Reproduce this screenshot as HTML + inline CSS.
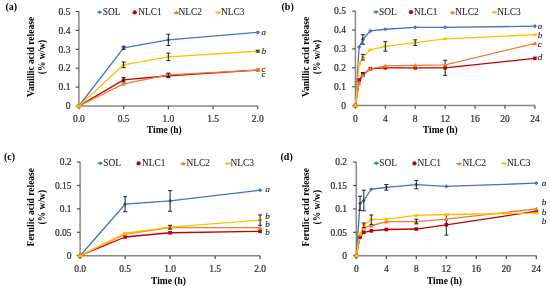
<!DOCTYPE html>
<html><head><meta charset="utf-8"><style>
html,body{margin:0;padding:0;background:#fff;width:550px;height:288px;overflow:hidden}
svg{display:block;filter:blur(0.3px)}
</style></head><body>
<svg width="550" height="288" viewBox="0 0 550 288">
<rect width="550" height="288" fill="#fff"/>
<text x="5.5" y="9.8" font-family="Liberation Serif" font-size="10" font-weight="bold" fill="#000">(a)</text>
<text transform="translate(33.9,57.0) rotate(-90)" text-anchor="middle" font-family="Liberation Serif" font-size="9.5" font-weight="bold" fill="#000"><tspan x="0" y="0">Vanillic acid release</tspan><tspan x="0" y="10.7">(% w/w)</tspan></text>
<text x="164.3" y="133.3" text-anchor="middle" font-family="Liberation Serif" font-size="9.5" font-weight="bold" fill="#000">Time (h)</text>
<path d="M78.90 11.50V106.00H257.80" fill="none" stroke="#888888" stroke-width="1.5"/>
<path d="M75.70 106.00H78.90" stroke="#4a4a4a" stroke-width="1.2"/>
<text x="70.40" y="109.20" text-anchor="end" font-family="Liberation Serif" font-size="9.5" fill="#2e2e2e" stroke="#2e2e2e" stroke-width="0.22">0</text>
<path d="M75.70 87.10H78.90" stroke="#4a4a4a" stroke-width="1.2"/>
<text x="70.40" y="90.30" text-anchor="end" font-family="Liberation Serif" font-size="9.5" fill="#2e2e2e" stroke="#2e2e2e" stroke-width="0.22">0.1</text>
<path d="M75.70 68.20H78.90" stroke="#4a4a4a" stroke-width="1.2"/>
<text x="70.40" y="71.40" text-anchor="end" font-family="Liberation Serif" font-size="9.5" fill="#2e2e2e" stroke="#2e2e2e" stroke-width="0.22">0.2</text>
<path d="M75.70 49.30H78.90" stroke="#4a4a4a" stroke-width="1.2"/>
<text x="70.40" y="52.50" text-anchor="end" font-family="Liberation Serif" font-size="9.5" fill="#2e2e2e" stroke="#2e2e2e" stroke-width="0.22">0.3</text>
<path d="M75.70 30.40H78.90" stroke="#4a4a4a" stroke-width="1.2"/>
<text x="70.40" y="33.60" text-anchor="end" font-family="Liberation Serif" font-size="9.5" fill="#2e2e2e" stroke="#2e2e2e" stroke-width="0.22">0.4</text>
<path d="M75.70 11.50H78.90" stroke="#4a4a4a" stroke-width="1.2"/>
<text x="70.40" y="14.70" text-anchor="end" font-family="Liberation Serif" font-size="9.5" fill="#2e2e2e" stroke="#2e2e2e" stroke-width="0.22">0.5</text>
<path d="M78.90 106.00V109.20" stroke="#4a4a4a" stroke-width="1.2"/>
<text x="78.90" y="122.00" text-anchor="middle" font-family="Liberation Serif" font-size="9.5" fill="#2e2e2e" stroke="#2e2e2e" stroke-width="0.22">0.0</text>
<path d="M123.62 106.00V109.20" stroke="#4a4a4a" stroke-width="1.2"/>
<text x="123.62" y="122.00" text-anchor="middle" font-family="Liberation Serif" font-size="9.5" fill="#2e2e2e" stroke="#2e2e2e" stroke-width="0.22">0.5</text>
<path d="M168.35 106.00V109.20" stroke="#4a4a4a" stroke-width="1.2"/>
<text x="168.35" y="122.00" text-anchor="middle" font-family="Liberation Serif" font-size="9.5" fill="#2e2e2e" stroke="#2e2e2e" stroke-width="0.22">1.0</text>
<path d="M213.08 106.00V109.20" stroke="#4a4a4a" stroke-width="1.2"/>
<text x="213.08" y="122.00" text-anchor="middle" font-family="Liberation Serif" font-size="9.5" fill="#2e2e2e" stroke="#2e2e2e" stroke-width="0.22">1.5</text>
<path d="M257.80 106.00V109.20" stroke="#4a4a4a" stroke-width="1.2"/>
<text x="257.80" y="122.00" text-anchor="middle" font-family="Liberation Serif" font-size="9.5" fill="#2e2e2e" stroke="#2e2e2e" stroke-width="0.22">2.0</text>
<path d="M78.90 106.00 L123.62 47.79 L168.35 39.85 L257.80 32.29" fill="none" stroke="#4472C4" stroke-width="1.3" stroke-linejoin="round"/>
<path d="M78.90 106.00 L123.62 79.92 L168.35 75.76 L257.80 70.09" fill="none" stroke="#C00000" stroke-width="1.3" stroke-linejoin="round"/>
<path d="M78.90 106.00 L123.62 83.89 L168.35 74.81 L257.80 70.09" fill="none" stroke="#ED7D31" stroke-width="1.3" stroke-linejoin="round"/>
<path d="M78.90 106.00 L123.62 64.80 L168.35 56.86 L257.80 51.19" fill="none" stroke="#FFC000" stroke-width="1.3" stroke-linejoin="round"/>
<path d="M76.80 106.00L78.90 103.90L81.00 106.00L78.90 108.10Z" fill="#4472C4"/>
<path d="M121.53 47.79L123.62 45.69L125.72 47.79L123.62 49.89Z" fill="#4472C4"/>
<path d="M166.25 39.85L168.35 37.75L170.45 39.85L168.35 41.95Z" fill="#4472C4"/>
<path d="M255.70 32.29L257.80 30.19L259.90 32.29L257.80 34.39Z" fill="#4472C4"/>
<path d="M123.62 46.28V49.30M121.62 46.28H125.62M121.62 49.30H125.62" stroke="#1e1e1e" stroke-width="1.0" fill="none"/>
<path d="M168.35 34.18V45.52M166.35 34.18H170.35M166.35 45.52H170.35" stroke="#1e1e1e" stroke-width="1.0" fill="none"/>
<circle cx="78.90" cy="106.00" r="1.85" fill="#C00000"/>
<circle cx="123.62" cy="79.92" r="1.85" fill="#C00000"/>
<circle cx="168.35" cy="75.76" r="1.85" fill="#C00000"/>
<circle cx="257.80" cy="70.09" r="1.85" fill="#C00000"/>
<path d="M123.62 77.65V82.19M121.62 77.65H125.62M121.62 82.19H125.62" stroke="#1e1e1e" stroke-width="1.0" fill="none"/>
<path d="M168.35 73.87V77.65M166.35 73.87H170.35M166.35 77.65H170.35" stroke="#1e1e1e" stroke-width="1.0" fill="none"/>
<rect x="77.10" y="104.20" width="3.60" height="3.60" fill="#ED7D31"/>
<rect x="121.83" y="82.09" width="3.60" height="3.60" fill="#ED7D31"/>
<rect x="166.55" y="73.02" width="3.60" height="3.60" fill="#ED7D31"/>
<rect x="256.00" y="68.29" width="3.60" height="3.60" fill="#ED7D31"/>
<path d="M168.35 73.11V76.52M166.35 73.11H170.35M166.35 76.52H170.35" stroke="#1e1e1e" stroke-width="1.0" fill="none"/>
<rect x="76.90" y="104.80" width="4.00" height="2.4" fill="#FFC000"/>
<rect x="121.62" y="63.60" width="4.00" height="2.4" fill="#FFC000"/>
<rect x="166.35" y="55.66" width="4.00" height="2.4" fill="#FFC000"/>
<rect x="255.80" y="49.99" width="4.00" height="2.4" fill="#FFC000"/>
<path d="M123.62 61.96V67.63M121.62 61.96H125.62M121.62 67.63H125.62" stroke="#1e1e1e" stroke-width="1.0" fill="none"/>
<path d="M168.35 53.08V60.64M166.35 53.08H170.35M166.35 60.64H170.35" stroke="#1e1e1e" stroke-width="1.0" fill="none"/>
<path d="M257.80 50.25V52.14M255.80 50.25H259.80M255.80 52.14H259.80" stroke="#1e1e1e" stroke-width="1.0" fill="none"/>
<text x="261.50" y="35.30" font-family="Liberation Serif" font-size="9.2" font-style="italic" fill="#2a2a2a" stroke="#2a2a2a" stroke-width="0.15">a</text>
<text x="261.50" y="54.30" font-family="Liberation Serif" font-size="9.2" font-style="italic" fill="#2a2a2a" stroke="#2a2a2a" stroke-width="0.15">b</text>
<text x="261.50" y="71.50" font-family="Liberation Serif" font-size="9.2" font-style="italic" fill="#2a2a2a" stroke="#2a2a2a" stroke-width="0.15">c</text>
<text x="261.50" y="76.80" font-family="Liberation Serif" font-size="9.2" font-style="italic" fill="#2a2a2a" stroke="#2a2a2a" stroke-width="0.15">c</text>
<path d="M96.90 12.20H102.50" stroke="#4472C4" stroke-width="1.0"/>
<path d="M97.70 12.20L99.70 10.21L101.70 12.20L99.70 14.19Z" fill="#4472C4"/>
<circle cx="134.70" cy="12.40" r="2.13" fill="#C00000"/>
<path d="M173.70 12.60H179.30" stroke="#ED7D31" stroke-width="1.0"/>
<path d="M174.31 14.35L176.50 10.41L178.69 14.35Z" fill="#ED7D31"/>
<path d="M215.40 12.50H221.00" stroke="#FFC000" stroke-width="1.0"/>
<rect x="216.30" y="11.30" width="3.80" height="2.4" fill="#FFC000"/>
<text x="102.80" y="14.60" font-family="Liberation Serif" font-size="9.4" fill="#262626" stroke="#262626" stroke-width="0.08">SOL</text>
<text x="138.20" y="14.60" font-family="Liberation Serif" font-size="9.4" fill="#262626" stroke="#262626" stroke-width="0.08">NLC1</text>
<text x="178.60" y="14.60" font-family="Liberation Serif" font-size="9.4" fill="#262626" stroke="#262626" stroke-width="0.08">NLC2</text>
<text x="221.10" y="14.60" font-family="Liberation Serif" font-size="9.4" fill="#262626" stroke="#262626" stroke-width="0.08">NLC3</text>
<text x="281.5" y="9.6" font-family="Liberation Serif" font-size="10" font-weight="bold" fill="#000">(b)</text>
<text transform="translate(309.4,57.0) rotate(-90)" text-anchor="middle" font-family="Liberation Serif" font-size="9.5" font-weight="bold" fill="#000"><tspan x="0" y="0">Vanillic acid release</tspan><tspan x="0" y="10.7">(% w/w)</tspan></text>
<text x="440.3" y="133.3" text-anchor="middle" font-family="Liberation Serif" font-size="9.5" font-weight="bold" fill="#000">Time (h)</text>
<path d="M355.40 11.10V105.60H534.92" fill="none" stroke="#888888" stroke-width="1.5"/>
<path d="M352.20 105.60H355.40" stroke="#4a4a4a" stroke-width="1.2"/>
<text x="345.90" y="108.80" text-anchor="end" font-family="Liberation Serif" font-size="9.5" fill="#2e2e2e" stroke="#2e2e2e" stroke-width="0.22">0</text>
<path d="M352.20 86.70H355.40" stroke="#4a4a4a" stroke-width="1.2"/>
<text x="345.90" y="89.90" text-anchor="end" font-family="Liberation Serif" font-size="9.5" fill="#2e2e2e" stroke="#2e2e2e" stroke-width="0.22">0.1</text>
<path d="M352.20 67.80H355.40" stroke="#4a4a4a" stroke-width="1.2"/>
<text x="345.90" y="71.00" text-anchor="end" font-family="Liberation Serif" font-size="9.5" fill="#2e2e2e" stroke="#2e2e2e" stroke-width="0.22">0.2</text>
<path d="M352.20 48.90H355.40" stroke="#4a4a4a" stroke-width="1.2"/>
<text x="345.90" y="52.10" text-anchor="end" font-family="Liberation Serif" font-size="9.5" fill="#2e2e2e" stroke="#2e2e2e" stroke-width="0.22">0.3</text>
<path d="M352.20 30.00H355.40" stroke="#4a4a4a" stroke-width="1.2"/>
<text x="345.90" y="33.20" text-anchor="end" font-family="Liberation Serif" font-size="9.5" fill="#2e2e2e" stroke="#2e2e2e" stroke-width="0.22">0.4</text>
<path d="M352.20 11.10H355.40" stroke="#4a4a4a" stroke-width="1.2"/>
<text x="345.90" y="14.30" text-anchor="end" font-family="Liberation Serif" font-size="9.5" fill="#2e2e2e" stroke="#2e2e2e" stroke-width="0.22">0.5</text>
<path d="M355.40 105.60V108.80" stroke="#4a4a4a" stroke-width="1.2"/>
<text x="355.40" y="121.60" text-anchor="middle" font-family="Liberation Serif" font-size="9.5" fill="#2e2e2e" stroke="#2e2e2e" stroke-width="0.22">0</text>
<path d="M385.32 105.60V108.80" stroke="#4a4a4a" stroke-width="1.2"/>
<text x="385.32" y="121.60" text-anchor="middle" font-family="Liberation Serif" font-size="9.5" fill="#2e2e2e" stroke="#2e2e2e" stroke-width="0.22">4</text>
<path d="M415.24 105.60V108.80" stroke="#4a4a4a" stroke-width="1.2"/>
<text x="415.24" y="121.60" text-anchor="middle" font-family="Liberation Serif" font-size="9.5" fill="#2e2e2e" stroke="#2e2e2e" stroke-width="0.22">8</text>
<path d="M445.16 105.60V108.80" stroke="#4a4a4a" stroke-width="1.2"/>
<text x="445.16" y="121.60" text-anchor="middle" font-family="Liberation Serif" font-size="9.5" fill="#2e2e2e" stroke="#2e2e2e" stroke-width="0.22">12</text>
<path d="M475.08 105.60V108.80" stroke="#4a4a4a" stroke-width="1.2"/>
<text x="475.08" y="121.60" text-anchor="middle" font-family="Liberation Serif" font-size="9.5" fill="#2e2e2e" stroke="#2e2e2e" stroke-width="0.22">16</text>
<path d="M505.00 105.60V108.80" stroke="#4a4a4a" stroke-width="1.2"/>
<text x="505.00" y="121.60" text-anchor="middle" font-family="Liberation Serif" font-size="9.5" fill="#2e2e2e" stroke="#2e2e2e" stroke-width="0.22">20</text>
<path d="M534.92 105.60V108.80" stroke="#4a4a4a" stroke-width="1.2"/>
<text x="534.92" y="121.60" text-anchor="middle" font-family="Liberation Serif" font-size="9.5" fill="#2e2e2e" stroke="#2e2e2e" stroke-width="0.22">24</text>
<path d="M355.40 105.60 L359.14 47.01 L362.88 39.45 L370.36 30.94 L385.32 29.24 L415.24 27.35 L445.16 27.35 L534.92 26.22" fill="none" stroke="#4472C4" stroke-width="1.3" stroke-linejoin="round"/>
<path d="M355.40 105.60 L359.14 80.08 L362.88 74.41 L370.36 68.93 L385.32 67.80 L415.24 67.80 L445.16 67.80 L534.92 58.35" fill="none" stroke="#C00000" stroke-width="1.3" stroke-linejoin="round"/>
<path d="M355.40 105.60 L359.14 82.92 L362.88 75.36 L370.36 68.93 L385.32 65.91 L415.24 65.34 L445.16 64.78 L534.92 43.42" fill="none" stroke="#ED7D31" stroke-width="1.3" stroke-linejoin="round"/>
<path d="M355.40 105.60 L359.14 64.02 L362.88 57.22 L370.36 49.84 L385.32 46.44 L415.24 42.66 L445.16 38.88 L534.92 34.72" fill="none" stroke="#FFC000" stroke-width="1.3" stroke-linejoin="round"/>
<path d="M353.30 105.60L355.40 103.50L357.50 105.60L355.40 107.70Z" fill="#4472C4"/>
<path d="M357.04 47.01L359.14 44.91L361.24 47.01L359.14 49.11Z" fill="#4472C4"/>
<path d="M360.78 39.45L362.88 37.35L364.98 39.45L362.88 41.55Z" fill="#4472C4"/>
<path d="M368.26 30.94L370.36 28.84L372.46 30.94L370.36 33.04Z" fill="#4472C4"/>
<path d="M383.22 29.24L385.32 27.14L387.42 29.24L385.32 31.34Z" fill="#4472C4"/>
<path d="M413.14 27.35L415.24 25.25L417.34 27.35L415.24 29.45Z" fill="#4472C4"/>
<path d="M443.06 27.35L445.16 25.25L447.26 27.35L445.16 29.45Z" fill="#4472C4"/>
<path d="M532.82 26.22L534.92 24.12L537.02 26.22L534.92 28.32Z" fill="#4472C4"/>
<path d="M362.88 34.72V44.18M360.88 34.72H364.88M360.88 44.18H364.88" stroke="#1e1e1e" stroke-width="1.0" fill="none"/>
<rect x="353.60" y="103.80" width="3.60" height="3.60" fill="#C00000"/>
<rect x="357.34" y="78.28" width="3.60" height="3.60" fill="#C00000"/>
<rect x="361.08" y="72.61" width="3.60" height="3.60" fill="#C00000"/>
<rect x="368.56" y="67.13" width="3.60" height="3.60" fill="#C00000"/>
<rect x="383.52" y="66.00" width="3.60" height="3.60" fill="#C00000"/>
<rect x="413.44" y="66.00" width="3.60" height="3.60" fill="#C00000"/>
<rect x="443.36" y="66.00" width="3.60" height="3.60" fill="#C00000"/>
<rect x="533.12" y="56.55" width="3.60" height="3.60" fill="#C00000"/>
<path d="M362.88 72.52V76.30M360.88 72.52H364.88M360.88 76.30H364.88" stroke="#1e1e1e" stroke-width="1.0" fill="none"/>
<path d="M445.16 60.24V75.36M443.16 60.24H447.16M443.16 75.36H447.16" stroke="#1e1e1e" stroke-width="1.0" fill="none"/>
<path d="M353.10 107.44L355.40 103.30L357.70 107.44Z" fill="#ED7D31"/>
<path d="M356.84 84.76L359.14 80.62L361.44 84.76Z" fill="#ED7D31"/>
<path d="M360.58 77.20L362.88 73.06L365.18 77.20Z" fill="#ED7D31"/>
<path d="M368.06 70.77L370.36 66.63L372.66 70.77Z" fill="#ED7D31"/>
<path d="M383.02 67.75L385.32 63.61L387.62 67.75Z" fill="#ED7D31"/>
<path d="M412.94 67.18L415.24 63.04L417.54 67.18Z" fill="#ED7D31"/>
<path d="M442.86 66.62L445.16 62.48L447.46 66.62Z" fill="#ED7D31"/>
<path d="M532.62 45.26L534.92 41.12L537.22 45.26Z" fill="#ED7D31"/>
<rect x="353.40" y="104.40" width="4.00" height="2.4" fill="#FFC000"/>
<rect x="357.14" y="62.82" width="4.00" height="2.4" fill="#FFC000"/>
<rect x="360.88" y="56.02" width="4.00" height="2.4" fill="#FFC000"/>
<rect x="368.36" y="48.64" width="4.00" height="2.4" fill="#FFC000"/>
<rect x="383.32" y="45.24" width="4.00" height="2.4" fill="#FFC000"/>
<rect x="413.24" y="41.46" width="4.00" height="2.4" fill="#FFC000"/>
<rect x="443.16" y="37.68" width="4.00" height="2.4" fill="#FFC000"/>
<rect x="532.92" y="33.52" width="4.00" height="2.4" fill="#FFC000"/>
<path d="M362.88 54.38V60.05M360.88 54.38H364.88M360.88 60.05H364.88" stroke="#1e1e1e" stroke-width="1.0" fill="none"/>
<path d="M385.32 41.72V51.17M383.32 41.72H387.32M383.32 51.17H387.32" stroke="#1e1e1e" stroke-width="1.0" fill="none"/>
<path d="M415.24 39.83V45.50M413.24 39.83H417.24M413.24 45.50H417.24" stroke="#1e1e1e" stroke-width="1.0" fill="none"/>
<text x="537.80" y="28.60" font-family="Liberation Serif" font-size="9.2" font-style="italic" fill="#2a2a2a" stroke="#2a2a2a" stroke-width="0.15">a</text>
<text x="537.80" y="37.50" font-family="Liberation Serif" font-size="9.2" font-style="italic" fill="#2a2a2a" stroke="#2a2a2a" stroke-width="0.15">b</text>
<text x="537.80" y="46.50" font-family="Liberation Serif" font-size="9.2" font-style="italic" fill="#2a2a2a" stroke="#2a2a2a" stroke-width="0.15">c</text>
<text x="537.80" y="60.00" font-family="Liberation Serif" font-size="9.2" font-style="italic" fill="#2a2a2a" stroke="#2a2a2a" stroke-width="0.15">d</text>
<path d="M373.20 12.00H378.80" stroke="#4472C4" stroke-width="1.0"/>
<path d="M374.00 12.00L376.00 10.01L378.00 12.00L376.00 13.99Z" fill="#4472C4"/>
<circle cx="411.00" cy="12.20" r="2.13" fill="#C00000"/>
<path d="M449.80 12.40H455.40" stroke="#ED7D31" stroke-width="1.0"/>
<path d="M450.42 14.15L452.60 10.21L454.79 14.15Z" fill="#ED7D31"/>
<path d="M491.70 12.30H497.30" stroke="#FFC000" stroke-width="1.0"/>
<rect x="492.60" y="11.10" width="3.80" height="2.4" fill="#FFC000"/>
<text x="379.10" y="14.50" font-family="Liberation Serif" font-size="9.4" fill="#262626" stroke="#262626" stroke-width="0.08">SOL</text>
<text x="414.00" y="14.50" font-family="Liberation Serif" font-size="9.4" fill="#262626" stroke="#262626" stroke-width="0.08">NLC1</text>
<text x="455.20" y="14.50" font-family="Liberation Serif" font-size="9.4" fill="#262626" stroke="#262626" stroke-width="0.08">NLC2</text>
<text x="497.30" y="14.50" font-family="Liberation Serif" font-size="9.4" fill="#262626" stroke="#262626" stroke-width="0.08">NLC3</text>
<text x="4" y="159.6" font-family="Liberation Serif" font-size="10" font-weight="bold" fill="#000">(c)</text>
<text transform="translate(33.9,207.2) rotate(-90)" text-anchor="middle" font-family="Liberation Serif" font-size="9.5" font-weight="bold" fill="#000"><tspan x="0" y="0">Ferulic acid release</tspan><tspan x="0" y="10.7">(% w/w)</tspan></text>
<text x="168.5" y="283.5" text-anchor="middle" font-family="Liberation Serif" font-size="9.5" font-weight="bold" fill="#000">Time (h)</text>
<path d="M80.10 162.10V255.70H260.10" fill="none" stroke="#888888" stroke-width="1.5"/>
<path d="M76.90 255.70H80.10" stroke="#4a4a4a" stroke-width="1.2"/>
<text x="71.60" y="258.90" text-anchor="end" font-family="Liberation Serif" font-size="9.5" fill="#2e2e2e" stroke="#2e2e2e" stroke-width="0.22">0</text>
<path d="M76.90 232.30H80.10" stroke="#4a4a4a" stroke-width="1.2"/>
<text x="71.60" y="235.50" text-anchor="end" font-family="Liberation Serif" font-size="9.5" fill="#2e2e2e" stroke="#2e2e2e" stroke-width="0.22">0.05</text>
<path d="M76.90 208.90H80.10" stroke="#4a4a4a" stroke-width="1.2"/>
<text x="71.60" y="212.10" text-anchor="end" font-family="Liberation Serif" font-size="9.5" fill="#2e2e2e" stroke="#2e2e2e" stroke-width="0.22">0.1</text>
<path d="M76.90 185.50H80.10" stroke="#4a4a4a" stroke-width="1.2"/>
<text x="71.60" y="188.70" text-anchor="end" font-family="Liberation Serif" font-size="9.5" fill="#2e2e2e" stroke="#2e2e2e" stroke-width="0.22">0.15</text>
<path d="M76.90 162.10H80.10" stroke="#4a4a4a" stroke-width="1.2"/>
<text x="71.60" y="165.30" text-anchor="end" font-family="Liberation Serif" font-size="9.5" fill="#2e2e2e" stroke="#2e2e2e" stroke-width="0.22">0.2</text>
<path d="M80.10 255.70V258.90" stroke="#4a4a4a" stroke-width="1.2"/>
<text x="80.10" y="271.70" text-anchor="middle" font-family="Liberation Serif" font-size="9.5" fill="#2e2e2e" stroke="#2e2e2e" stroke-width="0.22">0.0</text>
<path d="M125.10 255.70V258.90" stroke="#4a4a4a" stroke-width="1.2"/>
<text x="125.10" y="271.70" text-anchor="middle" font-family="Liberation Serif" font-size="9.5" fill="#2e2e2e" stroke="#2e2e2e" stroke-width="0.22">0.5</text>
<path d="M170.10 255.70V258.90" stroke="#4a4a4a" stroke-width="1.2"/>
<text x="170.10" y="271.70" text-anchor="middle" font-family="Liberation Serif" font-size="9.5" fill="#2e2e2e" stroke="#2e2e2e" stroke-width="0.22">1.0</text>
<path d="M215.10 255.70V258.90" stroke="#4a4a4a" stroke-width="1.2"/>
<text x="215.10" y="271.70" text-anchor="middle" font-family="Liberation Serif" font-size="9.5" fill="#2e2e2e" stroke="#2e2e2e" stroke-width="0.22">1.5</text>
<path d="M260.10 255.70V258.90" stroke="#4a4a4a" stroke-width="1.2"/>
<text x="260.10" y="271.70" text-anchor="middle" font-family="Liberation Serif" font-size="9.5" fill="#2e2e2e" stroke="#2e2e2e" stroke-width="0.22">2.0</text>
<path d="M80.10 255.70 L125.10 204.22 L170.10 200.94 L260.10 190.18" fill="none" stroke="#4472C4" stroke-width="1.3" stroke-linejoin="round"/>
<path d="M80.10 255.70 L125.10 236.98 L170.10 232.77 L260.10 231.36" fill="none" stroke="#C00000" stroke-width="1.3" stroke-linejoin="round"/>
<path d="M80.10 255.70 L125.10 234.17 L170.10 227.62 L260.10 227.62" fill="none" stroke="#ED7D31" stroke-width="1.3" stroke-linejoin="round"/>
<path d="M80.10 255.70 L125.10 233.24 L170.10 227.15 L260.10 220.13" fill="none" stroke="#FFC000" stroke-width="1.3" stroke-linejoin="round"/>
<path d="M78.00 255.70L80.10 253.60L82.20 255.70L80.10 257.80Z" fill="#4472C4"/>
<path d="M123.00 204.22L125.10 202.12L127.20 204.22L125.10 206.32Z" fill="#4472C4"/>
<path d="M168.00 200.94L170.10 198.84L172.20 200.94L170.10 203.04Z" fill="#4472C4"/>
<path d="M258.00 190.18L260.10 188.08L262.20 190.18L260.10 192.28Z" fill="#4472C4"/>
<path d="M125.10 196.73V211.71M123.10 196.73H127.10M123.10 211.71H127.10" stroke="#1e1e1e" stroke-width="1.0" fill="none"/>
<path d="M170.10 190.65V211.24M168.10 190.65H172.10M168.10 211.24H172.10" stroke="#1e1e1e" stroke-width="1.0" fill="none"/>
<rect x="78.30" y="253.90" width="3.60" height="3.60" fill="#C00000"/>
<rect x="123.30" y="235.18" width="3.60" height="3.60" fill="#C00000"/>
<rect x="168.30" y="230.97" width="3.60" height="3.60" fill="#C00000"/>
<rect x="258.30" y="229.56" width="3.60" height="3.60" fill="#C00000"/>
<path d="M77.80 257.54L80.10 253.40L82.40 257.54Z" fill="#ED7D31"/>
<path d="M122.80 236.01L125.10 231.87L127.40 236.01Z" fill="#ED7D31"/>
<path d="M167.80 229.46L170.10 225.32L172.40 229.46Z" fill="#ED7D31"/>
<path d="M257.80 229.46L260.10 225.32L262.40 229.46Z" fill="#ED7D31"/>
<rect x="78.10" y="254.50" width="4.00" height="2.4" fill="#FFC000"/>
<rect x="123.10" y="232.04" width="4.00" height="2.4" fill="#FFC000"/>
<rect x="168.10" y="225.95" width="4.00" height="2.4" fill="#FFC000"/>
<rect x="258.10" y="218.93" width="4.00" height="2.4" fill="#FFC000"/>
<path d="M170.10 225.28V229.02M168.10 225.28H172.10M168.10 229.02H172.10" stroke="#1e1e1e" stroke-width="1.0" fill="none"/>
<path d="M260.10 214.98V225.28M258.10 214.98H262.10M258.10 225.28H262.10" stroke="#1e1e1e" stroke-width="1.0" fill="none"/>
<text x="265.30" y="192.00" font-family="Liberation Serif" font-size="9.2" font-style="italic" fill="#2a2a2a" stroke="#2a2a2a" stroke-width="0.15">a</text>
<text x="265.30" y="219.00" font-family="Liberation Serif" font-size="9.2" font-style="italic" fill="#2a2a2a" stroke="#2a2a2a" stroke-width="0.15">b</text>
<text x="265.30" y="227.40" font-family="Liberation Serif" font-size="9.2" font-style="italic" fill="#2a2a2a" stroke="#2a2a2a" stroke-width="0.15">b</text>
<text x="265.30" y="235.20" font-family="Liberation Serif" font-size="9.2" font-style="italic" fill="#2a2a2a" stroke="#2a2a2a" stroke-width="0.15">b</text>
<path d="M97.50 163.20H103.10" stroke="#4472C4" stroke-width="1.0"/>
<path d="M98.30 163.20L100.30 161.20L102.30 163.20L100.30 165.19Z" fill="#4472C4"/>
<circle cx="138.60" cy="163.40" r="2.13" fill="#C00000"/>
<path d="M180.40 163.60H186.00" stroke="#ED7D31" stroke-width="1.0"/>
<path d="M181.01 165.35L183.20 161.41L185.38 165.35Z" fill="#ED7D31"/>
<path d="M225.10 163.50H230.70" stroke="#FFC000" stroke-width="1.0"/>
<rect x="226.00" y="162.30" width="3.80" height="2.4" fill="#FFC000"/>
<text x="103.20" y="166.00" font-family="Liberation Serif" font-size="9.4" fill="#262626" stroke="#262626" stroke-width="0.08">SOL</text>
<text x="141.90" y="166.00" font-family="Liberation Serif" font-size="9.4" fill="#262626" stroke="#262626" stroke-width="0.08">NLC1</text>
<text x="186.50" y="166.00" font-family="Liberation Serif" font-size="9.4" fill="#262626" stroke="#262626" stroke-width="0.08">NLC2</text>
<text x="230.60" y="166.00" font-family="Liberation Serif" font-size="9.4" fill="#262626" stroke="#262626" stroke-width="0.08">NLC3</text>
<text x="280.5" y="159.6" font-family="Liberation Serif" font-size="10" font-weight="bold" fill="#000">(d)</text>
<text transform="translate(309.4,207.2) rotate(-90)" text-anchor="middle" font-family="Liberation Serif" font-size="9.5" font-weight="bold" fill="#000"><tspan x="0" y="0">Ferulic acid release</tspan><tspan x="0" y="10.7">(% w/w)</tspan></text>
<text x="444.4" y="283.5" text-anchor="middle" font-family="Liberation Serif" font-size="9.5" font-weight="bold" fill="#000">Time (h)</text>
<path d="M356.30 162.10V255.70H536.30" fill="none" stroke="#888888" stroke-width="1.5"/>
<path d="M353.10 255.70H356.30" stroke="#4a4a4a" stroke-width="1.2"/>
<text x="347.00" y="258.90" text-anchor="end" font-family="Liberation Serif" font-size="9.5" fill="#2e2e2e" stroke="#2e2e2e" stroke-width="0.22">0</text>
<path d="M353.10 232.30H356.30" stroke="#4a4a4a" stroke-width="1.2"/>
<text x="347.00" y="235.50" text-anchor="end" font-family="Liberation Serif" font-size="9.5" fill="#2e2e2e" stroke="#2e2e2e" stroke-width="0.22">0.05</text>
<path d="M353.10 208.90H356.30" stroke="#4a4a4a" stroke-width="1.2"/>
<text x="347.00" y="212.10" text-anchor="end" font-family="Liberation Serif" font-size="9.5" fill="#2e2e2e" stroke="#2e2e2e" stroke-width="0.22">0.1</text>
<path d="M353.10 185.50H356.30" stroke="#4a4a4a" stroke-width="1.2"/>
<text x="347.00" y="188.70" text-anchor="end" font-family="Liberation Serif" font-size="9.5" fill="#2e2e2e" stroke="#2e2e2e" stroke-width="0.22">0.15</text>
<path d="M353.10 162.10H356.30" stroke="#4a4a4a" stroke-width="1.2"/>
<text x="347.00" y="165.30" text-anchor="end" font-family="Liberation Serif" font-size="9.5" fill="#2e2e2e" stroke="#2e2e2e" stroke-width="0.22">0.2</text>
<path d="M356.30 255.70V258.90" stroke="#4a4a4a" stroke-width="1.2"/>
<text x="356.30" y="271.70" text-anchor="middle" font-family="Liberation Serif" font-size="9.5" fill="#2e2e2e" stroke="#2e2e2e" stroke-width="0.22">0</text>
<path d="M386.30 255.70V258.90" stroke="#4a4a4a" stroke-width="1.2"/>
<text x="386.30" y="271.70" text-anchor="middle" font-family="Liberation Serif" font-size="9.5" fill="#2e2e2e" stroke="#2e2e2e" stroke-width="0.22">4</text>
<path d="M416.30 255.70V258.90" stroke="#4a4a4a" stroke-width="1.2"/>
<text x="416.30" y="271.70" text-anchor="middle" font-family="Liberation Serif" font-size="9.5" fill="#2e2e2e" stroke="#2e2e2e" stroke-width="0.22">8</text>
<path d="M446.30 255.70V258.90" stroke="#4a4a4a" stroke-width="1.2"/>
<text x="446.30" y="271.70" text-anchor="middle" font-family="Liberation Serif" font-size="9.5" fill="#2e2e2e" stroke="#2e2e2e" stroke-width="0.22">12</text>
<path d="M476.30 255.70V258.90" stroke="#4a4a4a" stroke-width="1.2"/>
<text x="476.30" y="271.70" text-anchor="middle" font-family="Liberation Serif" font-size="9.5" fill="#2e2e2e" stroke="#2e2e2e" stroke-width="0.22">16</text>
<path d="M506.30 255.70V258.90" stroke="#4a4a4a" stroke-width="1.2"/>
<text x="506.30" y="271.70" text-anchor="middle" font-family="Liberation Serif" font-size="9.5" fill="#2e2e2e" stroke="#2e2e2e" stroke-width="0.22">20</text>
<path d="M536.30 255.70V258.90" stroke="#4a4a4a" stroke-width="1.2"/>
<text x="536.30" y="271.70" text-anchor="middle" font-family="Liberation Serif" font-size="9.5" fill="#2e2e2e" stroke="#2e2e2e" stroke-width="0.22">24</text>
<path d="M356.30 255.70 L360.05 203.28 L363.80 200.48 L371.30 189.24 L386.30 187.37 L416.30 184.56 L446.30 186.44 L536.30 183.16" fill="none" stroke="#4472C4" stroke-width="1.3" stroke-linejoin="round"/>
<path d="M356.30 255.70 L360.05 236.98 L363.80 232.30 L371.30 230.90 L386.30 229.49 L416.30 229.02 L446.30 224.81 L536.30 211.24" fill="none" stroke="#C00000" stroke-width="1.3" stroke-linejoin="round"/>
<path d="M356.30 255.70 L360.05 234.64 L363.80 227.62 L371.30 225.75 L386.30 221.54 L416.30 221.54 L446.30 219.20 L536.30 208.90" fill="none" stroke="#ED7D31" stroke-width="1.3" stroke-linejoin="round"/>
<path d="M356.30 255.70 L360.05 234.17 L363.80 225.28 L371.30 219.66 L386.30 219.20 L416.30 215.45 L446.30 214.52 L536.30 213.11" fill="none" stroke="#FFC000" stroke-width="1.3" stroke-linejoin="round"/>
<path d="M354.20 255.70L356.30 253.60L358.40 255.70L356.30 257.80Z" fill="#4472C4"/>
<path d="M357.95 203.28L360.05 201.18L362.15 203.28L360.05 205.38Z" fill="#4472C4"/>
<path d="M361.70 200.48L363.80 198.38L365.90 200.48L363.80 202.58Z" fill="#4472C4"/>
<path d="M369.20 189.24L371.30 187.14L373.40 189.24L371.30 191.34Z" fill="#4472C4"/>
<path d="M384.20 187.37L386.30 185.27L388.40 187.37L386.30 189.47Z" fill="#4472C4"/>
<path d="M414.20 184.56L416.30 182.46L418.40 184.56L416.30 186.66Z" fill="#4472C4"/>
<path d="M444.20 186.44L446.30 184.34L448.40 186.44L446.30 188.54Z" fill="#4472C4"/>
<path d="M534.20 183.16L536.30 181.06L538.40 183.16L536.30 185.26Z" fill="#4472C4"/>
<path d="M360.05 196.26V210.30M358.05 196.26H362.05M358.05 210.30H362.05" stroke="#1e1e1e" stroke-width="1.0" fill="none"/>
<path d="M363.80 190.18V210.77M361.80 190.18H365.80M361.80 210.77H365.80" stroke="#1e1e1e" stroke-width="1.0" fill="none"/>
<path d="M386.30 184.56V190.18M384.30 184.56H388.30M384.30 190.18H388.30" stroke="#1e1e1e" stroke-width="1.0" fill="none"/>
<path d="M416.30 180.35V188.78M414.30 180.35H418.30M414.30 188.78H418.30" stroke="#1e1e1e" stroke-width="1.0" fill="none"/>
<rect x="354.50" y="253.90" width="3.60" height="3.60" fill="#C00000"/>
<rect x="358.25" y="235.18" width="3.60" height="3.60" fill="#C00000"/>
<rect x="362.00" y="230.50" width="3.60" height="3.60" fill="#C00000"/>
<rect x="369.50" y="229.10" width="3.60" height="3.60" fill="#C00000"/>
<rect x="384.50" y="227.69" width="3.60" height="3.60" fill="#C00000"/>
<rect x="414.50" y="227.22" width="3.60" height="3.60" fill="#C00000"/>
<rect x="444.50" y="223.01" width="3.60" height="3.60" fill="#C00000"/>
<rect x="534.50" y="209.44" width="3.60" height="3.60" fill="#C00000"/>
<path d="M446.30 214.52V235.11M444.30 214.52H448.30M444.30 235.11H448.30" stroke="#1e1e1e" stroke-width="1.0" fill="none"/>
<path d="M354.00 257.54L356.30 253.40L358.60 257.54Z" fill="#ED7D31"/>
<path d="M357.75 236.48L360.05 232.34L362.35 236.48Z" fill="#ED7D31"/>
<path d="M361.50 229.46L363.80 225.32L366.10 229.46Z" fill="#ED7D31"/>
<path d="M369.00 227.59L371.30 223.45L373.60 227.59Z" fill="#ED7D31"/>
<path d="M384.00 223.38L386.30 219.24L388.60 223.38Z" fill="#ED7D31"/>
<path d="M414.00 223.38L416.30 219.24L418.60 223.38Z" fill="#ED7D31"/>
<path d="M444.00 221.04L446.30 216.90L448.60 221.04Z" fill="#ED7D31"/>
<path d="M534.00 210.74L536.30 206.60L538.60 210.74Z" fill="#ED7D31"/>
<path d="M416.30 219.20V223.88M414.30 219.20H418.30M414.30 223.88H418.30" stroke="#1e1e1e" stroke-width="1.0" fill="none"/>
<rect x="354.30" y="254.50" width="4.00" height="2.4" fill="#FFC000"/>
<rect x="358.05" y="232.97" width="4.00" height="2.4" fill="#FFC000"/>
<rect x="361.80" y="224.08" width="4.00" height="2.4" fill="#FFC000"/>
<rect x="369.30" y="218.46" width="4.00" height="2.4" fill="#FFC000"/>
<rect x="384.30" y="218.00" width="4.00" height="2.4" fill="#FFC000"/>
<rect x="414.30" y="214.25" width="4.00" height="2.4" fill="#FFC000"/>
<rect x="444.30" y="213.32" width="4.00" height="2.4" fill="#FFC000"/>
<rect x="534.30" y="211.91" width="4.00" height="2.4" fill="#FFC000"/>
<path d="M363.80 222.94V227.62M361.80 222.94H365.80M361.80 227.62H365.80" stroke="#1e1e1e" stroke-width="1.0" fill="none"/>
<path d="M371.30 214.98V224.34M369.30 214.98H373.30M369.30 224.34H373.30" stroke="#1e1e1e" stroke-width="1.0" fill="none"/>
<text x="541.70" y="185.50" font-family="Liberation Serif" font-size="9.2" font-style="italic" fill="#2a2a2a" stroke="#2a2a2a" stroke-width="0.15">a</text>
<text x="541.70" y="205.00" font-family="Liberation Serif" font-size="9.2" font-style="italic" fill="#2a2a2a" stroke="#2a2a2a" stroke-width="0.15">b</text>
<text x="541.70" y="214.70" font-family="Liberation Serif" font-size="9.2" font-style="italic" fill="#2a2a2a" stroke="#2a2a2a" stroke-width="0.15">b</text>
<text x="541.70" y="223.80" font-family="Liberation Serif" font-size="9.2" font-style="italic" fill="#2a2a2a" stroke="#2a2a2a" stroke-width="0.15">b</text>
<path d="M373.50 163.20H379.10" stroke="#4472C4" stroke-width="1.0"/>
<path d="M374.31 163.20L376.30 161.20L378.30 163.20L376.30 165.19Z" fill="#4472C4"/>
<circle cx="414.50" cy="163.40" r="2.13" fill="#C00000"/>
<path d="M456.30 163.60H461.90" stroke="#ED7D31" stroke-width="1.0"/>
<path d="M456.92 165.35L459.10 161.41L461.29 165.35Z" fill="#ED7D31"/>
<path d="M501.30 163.50H506.90" stroke="#FFC000" stroke-width="1.0"/>
<rect x="502.20" y="162.30" width="3.80" height="2.4" fill="#FFC000"/>
<text x="379.30" y="166.00" font-family="Liberation Serif" font-size="9.4" fill="#262626" stroke="#262626" stroke-width="0.08">SOL</text>
<text x="417.40" y="166.00" font-family="Liberation Serif" font-size="9.4" fill="#262626" stroke="#262626" stroke-width="0.08">NLC1</text>
<text x="462.40" y="166.00" font-family="Liberation Serif" font-size="9.4" fill="#262626" stroke="#262626" stroke-width="0.08">NLC2</text>
<text x="507.10" y="166.00" font-family="Liberation Serif" font-size="9.4" fill="#262626" stroke="#262626" stroke-width="0.08">NLC3</text>
</svg></body></html>
